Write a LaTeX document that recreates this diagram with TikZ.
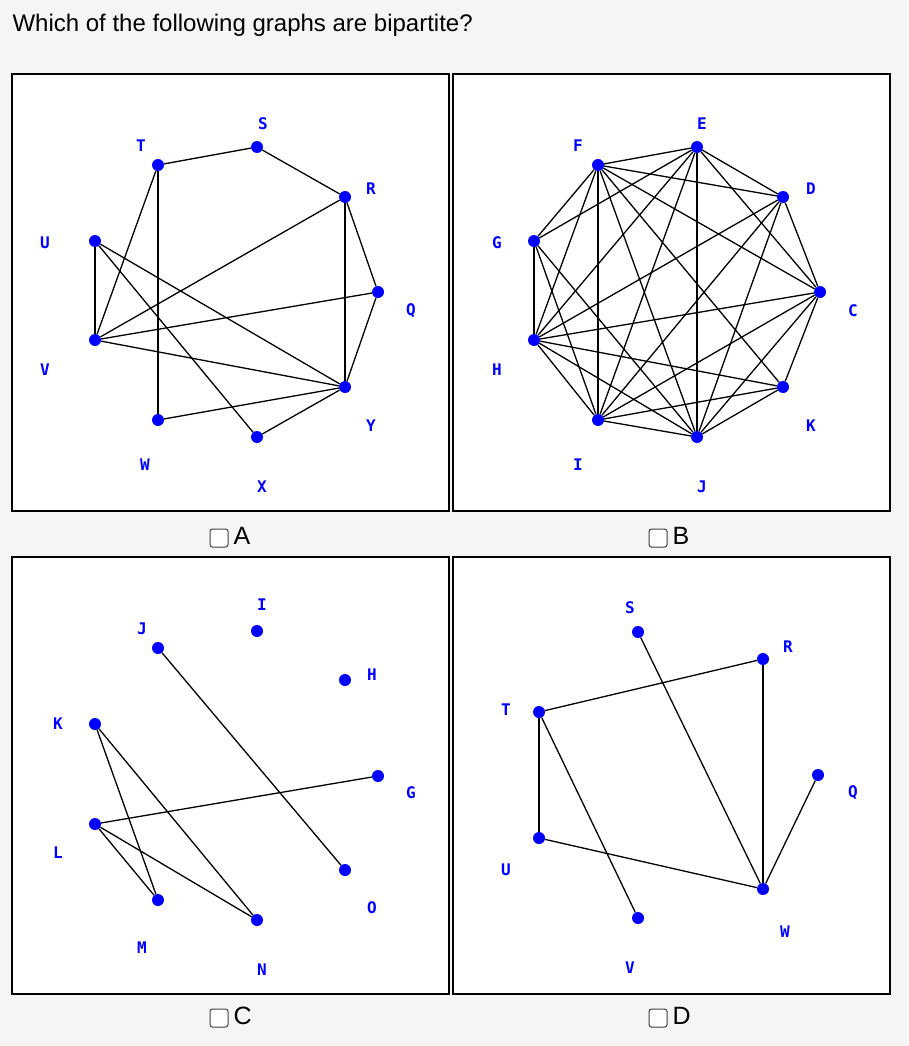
\documentclass[tikz,border=0pt]{standalone}
\usepackage{fontspec}
\setmainfont{Liberation Sans}
\newfontfamily\lblfont{DejaVu Sans Mono}
\begin{document}
\begin{tikzpicture}[x=1pt,y=-1pt,
  v/.style={circle,fill=blue,inner sep=0pt,minimum size=12pt},
  lb/.style={text=blue,font=\lblfont\bfseries\fontsize{16}{16}\selectfont},
  e/.style={line width=1.3pt,black},
  panel/.style={draw=black,line width=1.5pt,fill=white},
  cb/.style={draw=black!75,fill=white,line width=1pt,rounded corners=2.5pt,minimum size=18pt,inner sep=0pt}]
\fill[black!4] (0,0) rectangle (908,1046);
\useasboundingbox (0,0) rectangle (908,1046);
\node[anchor=west,font=\fontsize{24}{24}\selectfont] (title) at (9,25) {Which of the following graphs are bipartite?};
\draw[panel] (12,74) rectangle (449,511);
\draw[panel] (453,74) rectangle (890,511);
\draw[panel] (12,557) rectangle (449,994);
\draw[panel] (453,557) rectangle (890,994);
% checkboxes
\node[cb] (cbA) at (219,538) {}; \node[anchor=west,font=\fontsize{25}{25}\selectfont] (tA) at (230,536) {A};
\node[cb] (cbB) at (658,538) {}; \node[anchor=west,font=\fontsize{25}{25}\selectfont] (tB) at (669,536) {B};
\node[cb] (cbC) at (219,1018) {}; \node[anchor=west,font=\fontsize{25}{25}\selectfont] (tC) at (230,1016) {C};
\node[cb] (cbD) at (658,1018) {}; \node[anchor=west,font=\fontsize{25}{25}\selectfont] (tD) at (669,1016) {D};
% Graph A
\foreach \n/\x/\y/\lx/\ly in {S/257/147/263/124, T/158/165/141/146, R/345/197/371/189, U/95/241/45/243, Q/378/292/411/311, V/95/340/45/370, Y/345/387/371/426, W/158/420/145/465, X/257/437/262/487}{
  \node[v] (a\n) at (\x,\y) {};
  \node[lb] (la\n) at (\lx,\ly) {\n};
}
\foreach \a/\b in {T/S,S/R,R/Y,R/Q,Q/Y,T/W,T/V,U/V,U/Y,U/X,V/R,V/Q,V/Y,W/Y,X/Y}
  \draw[e] (a\a) -- (a\b);
% Graph B
\foreach \n/\x/\y/\lx/\ly in {E/697/147/702/124, F/598/165/578/146, D/783/197/811/189, G/534/241/497/243, C/820/292/853/311, H/534/340/497/370, K/783/387/811/426, I/598/420/578/465, J/697/437/702/487}{
  \node[v] (b\n) at (\x,\y) {};
  \node[lb] (lb\n) at (\lx,\ly) {\n};
}
\foreach \a/\b in {E/F,E/D,E/C,E/J,E/I,E/H,E/G,F/D,F/C,F/K,F/J,F/I,F/H,F/G,D/C,D/H,D/I,D/J,C/H,C/K,C/I,C/J,G/H,G/I,G/J,H/K,H/J,H/I,I/J,I/K,K/J}
  \draw[e] (b\a) -- (b\b);
% Graph C
\foreach \n/\x/\y/\lx/\ly in {K/95/724/58/724, J/158/648/142/629, I/257/631/262/605, H/345/680/372/675, G/378/776/411/793, L/95/824/58/853, M/158/900/142/948, N/257/920/262/970, O/345/870/372/908}{
  \node[v] (c\n) at (\x,\y) {};
  \node[lb] (lc\n) at (\lx,\ly) {\n};
}
\foreach \a/\b in {J/O,K/M,K/N,L/G,L/M,L/N}
  \draw[e] (c\a) -- (c\b);
% Graph D
\foreach \n/\x/\y/\lx/\ly in {S/638/632/630/608, R/763/659/788/647, T/539/712/506/710, Q/818/775/853/793, U/539/838/506/870, V/638/918/630/968, W/763/889/785/932}{
  \node[v] (d\n) at (\x,\y) {};
  \node[lb] (ld\n) at (\lx,\ly) {\n};
}
\foreach \a/\b in {T/R,T/U,T/V,S/W,R/W,Q/W,U/W}
  \draw[e] (d\a) -- (d\b);
\end{tikzpicture}
\end{document}
